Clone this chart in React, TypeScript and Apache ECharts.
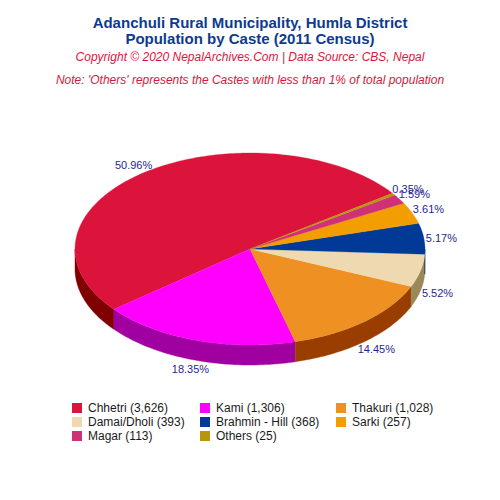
import React, { useEffect, useRef } from "react";
import * as echarts from "echarts";

const categories = ["Chhetri", "Kami", "Thakuri", "Damai/Dholi", "Brahmin - Hill", "Sarki", "Magar", "Others"];
const populations = [3626, 1306, 1028, 393, 368, 257, 113, 25];
const topColors = ["#DC143C", "#FF00FF", "#EE9022", "#EED9B0", "#003A96", "#F29E00", "#D03078", "#B8960C"];
const sideColors = ["#800000", "#A000A0", "#993D00", "#9A8858", "#00215A", "#9A6400", "#801848", "#705A00"];
const titleLines = ["Adanchuli Rural Municipality, Humla District", "Population by Caste (2011 Census)"];
const subtitle = "Copyright © 2020 NepalArchives.Com | Data Source: CBS, Nepal";
const note = "Note: 'Others' represents the Castes with less than 1% of total population";

const FONT = "'Liberation Sans', Arial, Helvetica, sans-serif";
const CX = 250, CY = 249, RX = 175, RY = 96, DEPTH = 20, START = 35.5;

const total = populations.reduce((a, b) => a + b, 0);
const startAngles: number[] = [];
const endAngles: number[] = [];
{
  let acc = START;
  populations.forEach((v) => {
    startAngles.push(acc);
    acc += (v / total) * 360;
    endAngles.push(acc);
  });
}

function pt(deg: number, r = 1, dy = 0): number[] {
  const a = (deg * Math.PI) / 180;
  return [CX + RX * r * Math.cos(a), CY - RY * r * Math.sin(a) + dy];
}

function arcPts(a1: number, a2: number, dy = 0): number[][] {
  const pts: number[][] = [];
  const n = Math.max(2, Math.ceil(Math.abs(a2 - a1) / 1));
  for (let k = 0; k <= n; k++) pts.push(pt(a1 + ((a2 - a1) * k) / n, 1, dy));
  return pts;
}

function fmt(n: number) {
  return n.toLocaleString("en-US");
}

export default function App() {
  const ref = useRef<HTMLDivElement>(null);
  useEffect(() => {
    if (!ref.current) return;
    const chart = echarts.init(ref.current, undefined, { renderer: "svg" });

    const sideSeries: any = {
      type: "custom",
      coordinateSystem: "none",
      z: 1,
      silent: true,
      data: populations.map((v, i) => [v, i]),
      renderItem: (params: any) => {
        const i = params.dataIndex;
        const children: any[] = [];
        const ranges = [[180, 360], [540, 720]];
        ranges.forEach(([lo, hi]) => {
          const s = Math.max(startAngles[i], lo);
          const e = Math.min(endAngles[i], hi);
          if (e > s) {
            const top = arcPts(s, e, 0);
            const bot = arcPts(e, s, DEPTH);
            children.push({
              type: "polygon",
              shape: { points: top.concat(bot) },
              style: { fill: sideColors[i], stroke: sideColors[i], lineWidth: 0.4 },
            });
          }
        });
        return { type: "group", children };
      },
    };

    const topSeries: any = {
      type: "custom",
      coordinateSystem: "none",
      z: 2,
      silent: true,
      data: populations.map((v, i) => [v, i]),
      renderItem: (params: any) => {
        const i = params.dataIndex;
        const pts = [[CX, CY]].concat(arcPts(startAngles[i], endAngles[i], 0));
        const mid = (startAngles[i] + endAngles[i]) / 2;
        const sinm = Math.sin((mid * Math.PI) / 180);
        const lp = pt(mid, 1.1, sinm < 0 ? DEPTH : 0);
        const pct = ((populations[i] / total) * 100).toFixed(2) + "%";
        return {
          type: "group",
          children: [
            {
              type: "polygon",
              shape: { points: pts },
              style: { fill: topColors[i], stroke: topColors[i], lineWidth: 0.3 },
            },
            {
              type: "text",
              x: lp[0],
              y: lp[1],
              z2: 20,
              style: {
                text: pct,
                fill: "#1F1F8F",
                font: `11px ${FONT}`,
                align: "center",
                verticalAlign: "middle",
              },
            },
          ],
        };
      },
    };

    const legendCols = [72, 200, 336];
    const legendRows = [408, 422, 436];
    const legendGraphics: any[] = [];
    categories.forEach((c, i) => {
      const col = i % 3;
      const row = Math.floor(i / 3);
      legendGraphics.push({
        type: "rect",
        shape: { x: legendCols[col], y: legendRows[row] - 5, width: 10, height: 10 },
        style: { fill: topColors[i] },
      });
      legendGraphics.push({
        type: "text",
        x: legendCols[col] + 16,
        y: legendRows[row],
        style: {
          text: `${c} (${fmt(populations[i])})`,
          fill: "#1a1a1a",
          font: `12px ${FONT}`,
          align: "left",
          verticalAlign: "middle",
        },
      });
    });

    chart.setOption({
      animation: false,
      backgroundColor: "#ffffff",
      graphic: [
        {
          type: "text",
          x: 250,
          y: 22,
          style: { text: titleLines[0], fill: "#0D3B8F", font: `bold 15px ${FONT}`, align: "center", verticalAlign: "middle" },
        },
        {
          type: "text",
          x: 250,
          y: 38,
          style: { text: titleLines[1], fill: "#0D3B8F", font: `bold 15px ${FONT}`, align: "center", verticalAlign: "middle" },
        },
        {
          type: "text",
          x: 250,
          y: 57,
          style: { text: subtitle, fill: "#DC143C", font: `italic 12px ${FONT}`, align: "center", verticalAlign: "middle" },
        },
        {
          type: "text",
          x: 250,
          y: 80,
          style: { text: note, fill: "#DC143C", font: `italic 12px ${FONT}`, align: "center", verticalAlign: "middle" },
        },
        ...legendGraphics,
      ],
      series: [sideSeries, topSeries],
    });

    return () => chart.dispose();
  }, []);

  return (
    <div
      ref={ref}
      style={{ position: "fixed", left: 0, top: 0, width: 500, height: 500, background: "#fff" }}
    />
  );
}
